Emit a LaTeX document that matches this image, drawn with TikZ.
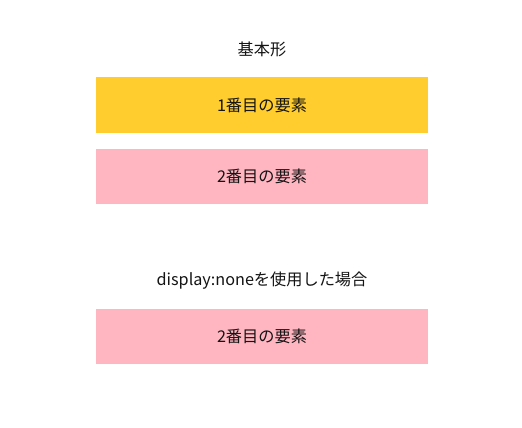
\documentclass[tikz,border=0pt]{standalone}
\usepackage{fontspec}
\setmainfont{Noto Sans CJK JP}
\begin{document}
\begin{tikzpicture}[x=1pt,y=-1pt,
  elem/.style={minimum width=332pt,minimum height=55.5pt,inner sep=0pt,font=\fontsize{16.2}{19}\selectfont,text=black!92},
  ttl/.style={inner sep=0pt,font=\fontsize{16.2}{19}\selectfont,text=black!92}]
\useasboundingbox[fill=white] (0,0) rectangle (522,428);
\node[ttl] (t1) at (262,49) {基本形};
\node[elem,fill={rgb,255:red,255;green,205;blue,46}] (e1) at (262,105) {1番目の要素};
\node[elem,fill={rgb,255:red,255;green,182;blue,193}] (e2) at (262,176.5) {2番目の要素};
\node[ttl] (t2) at (262,281) {display:noneを使用した場合};
\node[elem,fill={rgb,255:red,255;green,182;blue,193}] (e3) at (262,336.5) {2番目の要素};
\end{tikzpicture}
\end{document}
